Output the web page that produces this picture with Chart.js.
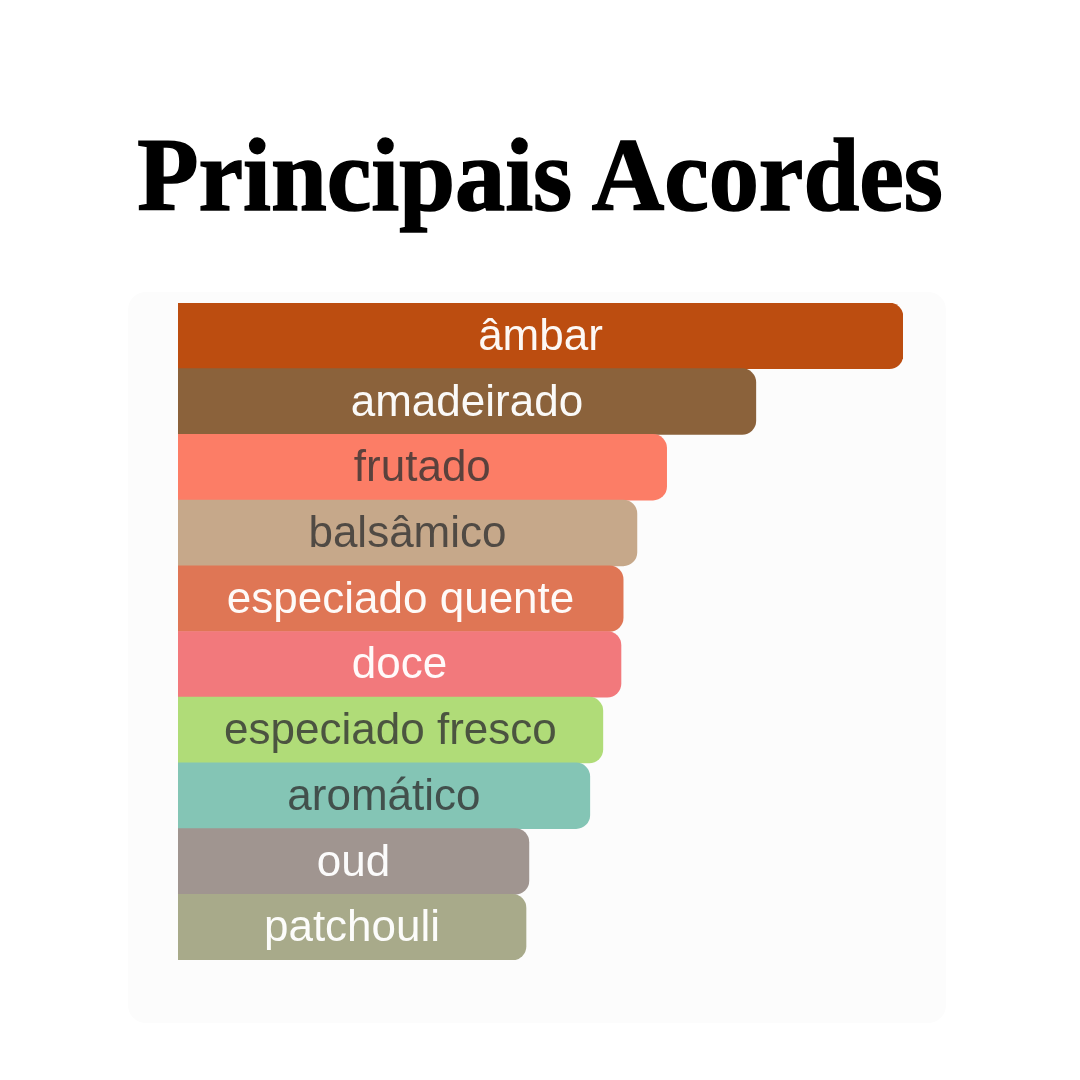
<!DOCTYPE html>
<html lang="pt">
<head>
    <meta charset="UTF-8">
    <title>Principais Acordes</title>
    <script src="https://cdn.jsdelivr.net/npm/chart.js"></script>
    <style>
        html, body { margin: 0; padding: 0; background: #ffffff; }
        .wrap { position: relative; width: 1080px; height: 1080px; }
        h1 {
            position: absolute; left: 0; top: 123px; width: 1080px; margin: 0;
            font-family: "Liberation Serif", "Times New Roman", serif;
            font-weight: bold; font-size: 104px; line-height: 1;
            text-align: center; color: #000;
            -webkit-text-stroke: 1.6px #000;
            transform: scaleX(0.965); transform-origin: 540px 50%;
            z-index: 2;
        }
        canvas { position: absolute; left: 0; top: 0; }
    </style>
</head>
<body>
<div class="wrap">
    <h1>Principais Acordes</h1>
    <canvas id="acordes" width="1080" height="1080"></canvas>
</div>
<script>
    const acordes = ['âmbar', 'amadeirado', 'frutado', 'balsâmico', 'especiado quente', 'doce', 'especiado fresco', 'aromático', 'oud', 'patchouli'];
    const intensidade = [100, 79.7, 67.4, 63.3, 61.4, 61.1, 58.6, 56.8, 48.4, 48.0];
    const coresBarra = ['#bc4d10', '#8b623b', '#fc7d66', '#c6a88a', '#df7655', '#f2797c', '#b0dc78', '#84c5b5', '#a09590', '#a8aa8a'];
    const corTexto = ['light', 'light', 'dark', 'dark', 'light', 'light', 'dark', 'dark', 'light', 'light'];

    // fundo cinza bem claro atras das barras
    const painel = {
        id: 'painel',
        beforeDraw(chart) {
            const ctx = chart.ctx;
            ctx.save();
            ctx.fillStyle = '#fcfcfc';
            ctx.beginPath();
            ctx.roundRect(128, 292, 818, 731, 18);
            ctx.fill();
            ctx.restore();
        }
    };

    // nome do acorde centralizado dentro de cada barra
    const rotulos = {
        id: 'rotulos',
        afterDatasetsDraw(chart) {
            const ctx = chart.ctx;
            const meta = chart.getDatasetMeta(0);
            ctx.save();
            ctx.font = '44px "Liberation Sans", Arial, sans-serif';
            ctx.textAlign = 'center';
            ctx.textBaseline = 'middle';
            meta.data.forEach((bar, i) => {
                ctx.fillStyle = corTexto[i] === 'light' ? 'rgba(255,255,255,0.96)' : 'rgba(50,50,50,0.8)';
                ctx.fillText(acordes[i], (bar.base + bar.x) / 2, bar.y + 2);
            });
            ctx.restore();
        }
    };

    new Chart(document.getElementById('acordes'), {
        type: 'bar',
        data: {
            labels: acordes,
            datasets: [{
                data: intensidade,
                backgroundColor: coresBarra,
                borderRadius: 14,
                barPercentage: 1,
                categoryPercentage: 1
            }]
        },
        options: {
            indexAxis: 'y',
            responsive: false,
            animation: false,
            layout: {
                padding: { left: 178, right: 177, top: 303, bottom: 120 }
            },
            scales: {
                x: { display: false, min: 0, max: 100 },
                y: { display: false }
            },
            plugins: {
                legend: { display: false },
                tooltip: { enabled: false }
            }
        },
        plugins: [painel, rotulos]
    });
</script>
</body>
</html>
